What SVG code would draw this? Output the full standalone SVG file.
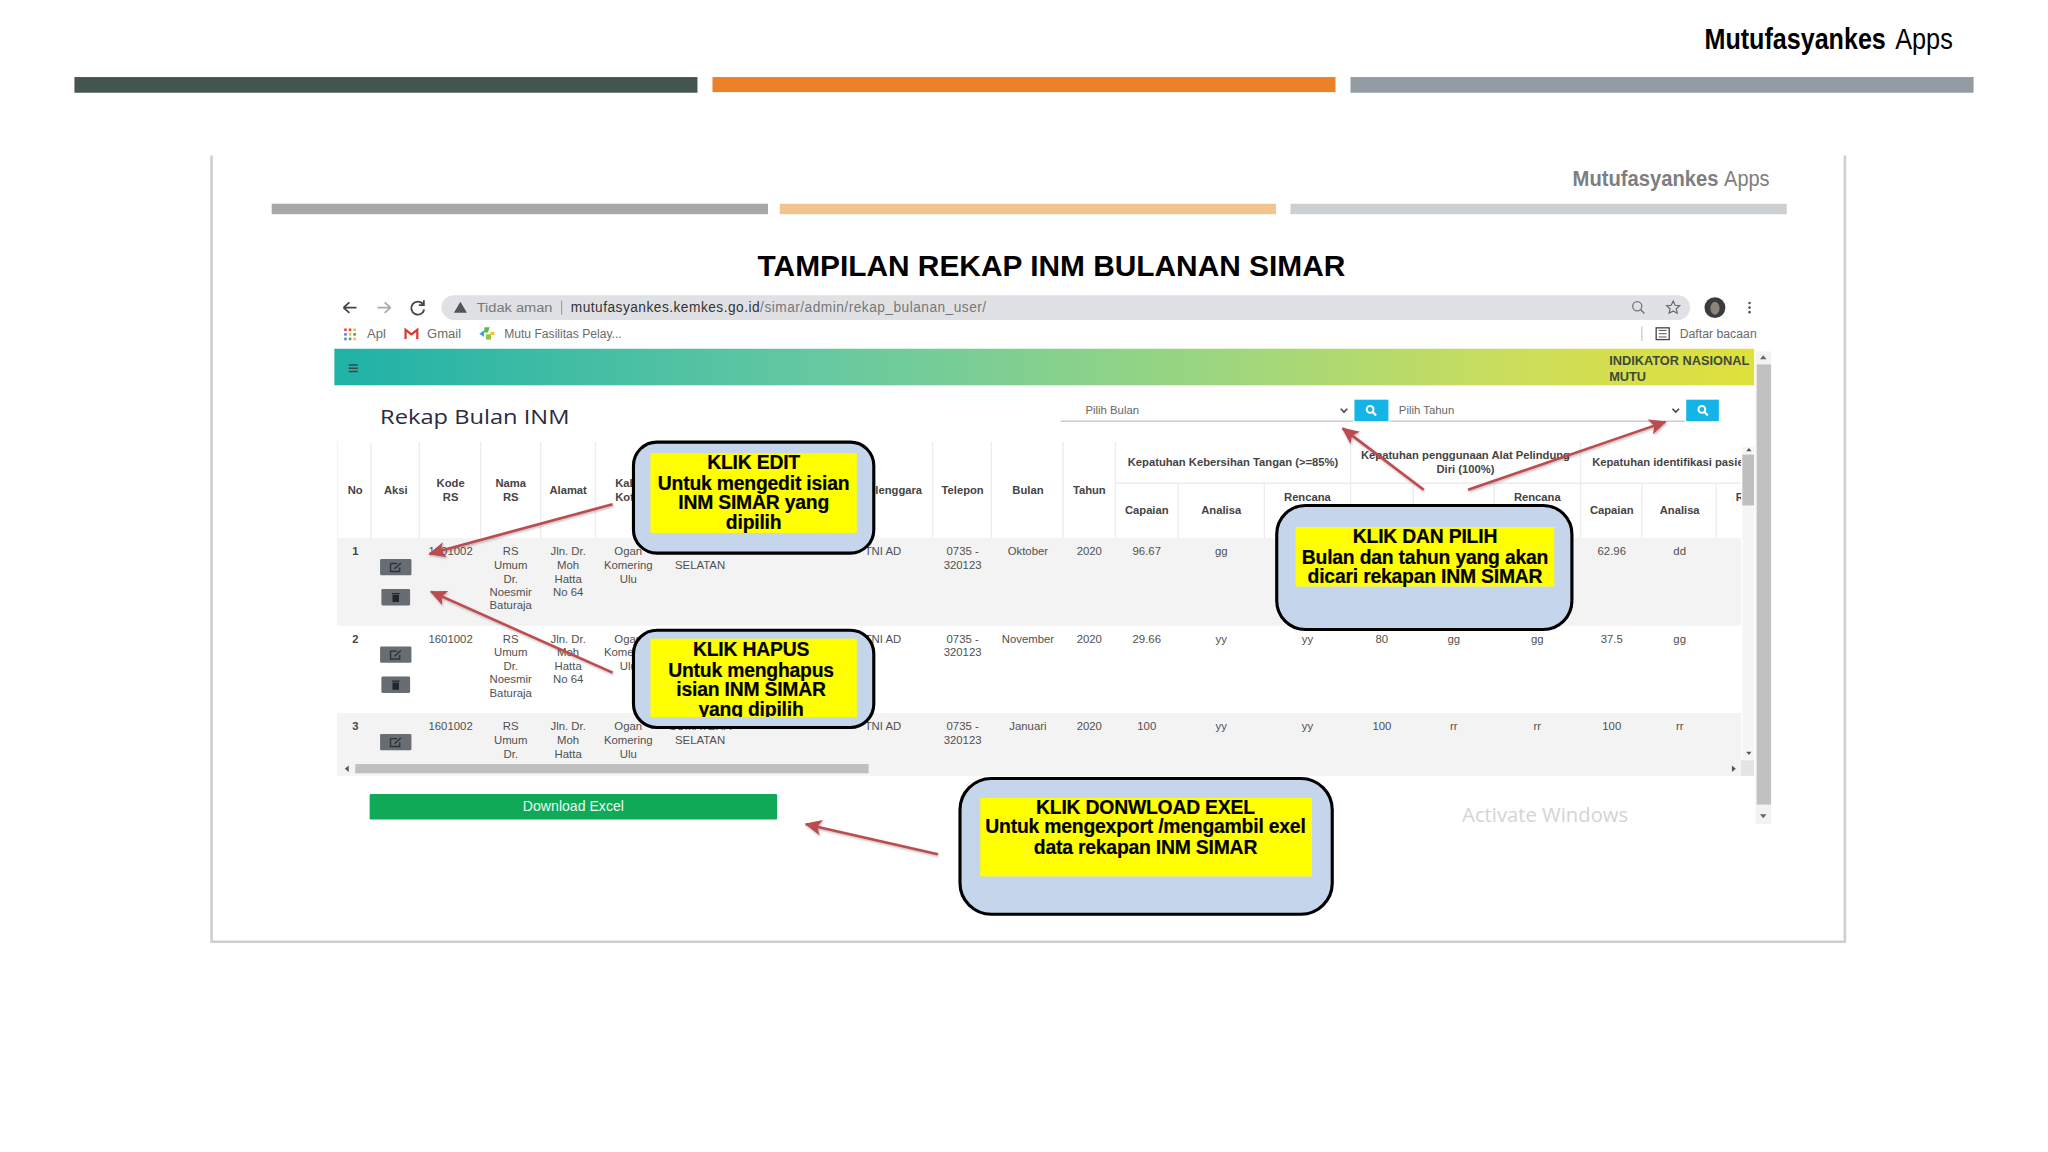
<svg xmlns="http://www.w3.org/2000/svg" width="2048" height="1152" viewBox="0 0 2048 1152">
<style>
text{font-family:"Liberation Sans",Arial,sans-serif}
.t{font-size:8.7px;fill:#505050;text-anchor:middle}
.h{font-size:8.6px;fill:#444;text-anchor:middle;font-weight:bold}
.b{font-size:10px;fill:#6b6b6b}
.sep{stroke:#ececec;stroke-width:1}
.call{fill:#c5d6ec;stroke:#000;stroke-width:2.4}
.yel{fill:#ffff00}
.ct{font-size:14.8px;font-weight:bold;fill:#000;text-anchor:middle;letter-spacing:-.15px;stroke:#000;stroke-width:.15}
.btn{fill:#676d73}
.arr{fill:none;stroke:#bb4b4f;stroke-width:2;marker-end:url(#ah);filter:url(#sh)}
</style>
<defs>
<linearGradient id="hd" x1="0" x2="1" y1="0" y2="0"><stop offset="0" stop-color="#1fb2a7"/><stop offset=".35" stop-color="#67c9a0"/><stop offset=".62" stop-color="#9cd67f"/><stop offset=".85" stop-color="#cfde58"/><stop offset="1" stop-color="#dfe03a"/></linearGradient>
<marker id="ah" markerUnits="userSpaceOnUse" markerWidth="14" markerHeight="12" refX="12" refY="6" orient="auto"><path d="M0 0L13 6L0 12L3 6Z" fill="#bb4b4f"/></marker>
<filter id="sh" x="-20%" y="-20%" width="140%" height="140%"><feDropShadow dx=".6" dy="1" stdDeviation=".8" flood-color="#000" flood-opacity=".3"/></filter>
<clipPath id="tbl"><rect x="258" y="338" width="1075" height="244"/></clipPath>
<clipPath id="hy"><rect x="498" y="489" width="158" height="60"/></clipPath>
<g id="ed"><rect class="btn" x="0" y="0" width="24" height="12.5" rx="1"/><path d="M8 3.5h5M8 3.5v6h7v-3M11 7.5l5-4.5" fill="none" stroke="#2f3338" stroke-width="1.1"/></g>
<g id="tr"><rect class="btn" x="0" y="0" width="22" height="12.5" rx="1"/><path d="M8 3h6v1h-6zM8.5 4.5h5v5.5h-5z" fill="#22262a"/></g>
<g id="se"><circle cx="-1" cy="-1" r="2.6" fill="none" stroke="#fff" stroke-width="1.5"/><path d="M1 1L3.6 3.6" stroke="#fff" stroke-width="1.6"/></g>
</defs>
<rect width="2048" height="1152" fill="#fff"/>
<g transform="scale(1.30612)">
<text transform="translate(1305 37.500) scale(.874 1)" font-size="22" font-weight="bold" fill="#000">Mutufasyankes</text>
<text transform="translate(1451 37.500) scale(.88 1)" font-size="22" fill="#000">Apps</text>
<rect x="57" y="59" width="477" height="12" fill="#44544f"/>
<rect x="545.500" y="59" width="477" height="11.500" fill="#ed8126"/>
<rect x="1034" y="59" width="477" height="12" fill="#939ba5"/>

<path d="M162 119V721H1412.500V119" fill="none" stroke="#cfcfcf" stroke-width="2"/>
<text transform="translate(1204 142.500) scale(.91 1)" font-size="17" font-weight="bold" fill="#7e7e80">Mutufasyankes</text>
<text transform="translate(1320 142.500) scale(.9 1)" font-size="17" fill="#7e7e80">Apps</text>
<rect x="208" y="156" width="380" height="8" fill="#a6a7a9"/>
<rect x="597" y="156" width="380" height="8" fill="#f1c490"/>
<rect x="988" y="156" width="380" height="8" fill="#ccd0d2"/>
<text x="805" y="211" text-anchor="middle" font-size="23" font-weight="bold" fill="#000" textLength="450" lengthAdjust="spacingAndGlyphs">TAMPILAN REKAP INM BULANAN SIMAR</text>

<g id="browser">
<path d="M263 235.500h10M263 235.500l4.500-4M263 235.500l4.500 4" fill="none" stroke="#444" stroke-width="1.400"/>
<path d="M299 235.500h-10M299 235.500l-4.500-4M299 235.500l-4.500 4" fill="none" stroke="#aaa" stroke-width="1.400"/>
<path d="M324 233a5 5 0 1 0 .8 4M324.500 229.800v3.800h-3.800" fill="none" stroke="#444" stroke-width="1.400"/>
<rect x="338" y="226" width="956" height="19" rx="9.500" fill="#e0e1e4"/>
<path d="M352.500 231l5 8.500h-10z" fill="#555"/>
<text x="365" y="239" font-size="10" fill="#777" textLength="58" lengthAdjust="spacingAndGlyphs">Tidak aman</text>
<path d="M430 230v11" stroke="#999" stroke-width=".8"/>
<text x="437" y="239" font-size="10.500" fill="#333" textLength="318" lengthAdjust="spacing">mutufasyankes.kemkes.go.id<tspan fill="#777">/simar/admin/rekap_bulanan_user/</tspan></text>
<circle cx="1253.500" cy="234.500" r="3.500" fill="none" stroke="#777" stroke-width="1"/><path d="M1256 237l3 3" stroke="#777" stroke-width="1.200"/>
<path d="M1281 230.500l1.500 3.200 3.500.4-2.600 2.300.7 3.400-3.100-1.700-3.100 1.700.7-3.400-2.600-2.300 3.500-.4z" fill="none" stroke="#666" stroke-width=".9"/>
<circle cx="1313" cy="235.500" r="8" fill="#3b3b3b"/><ellipse cx="1313" cy="236" rx="3.500" ry="5" fill="#8a8578"/>
<circle cx="1339.500" cy="232" r="1" fill="#555"/><circle cx="1339.500" cy="235.500" r="1" fill="#555"/><circle cx="1339.500" cy="239" r="1" fill="#555"/>
<g id="apps"><path d="M263.500 251.500h2v2h-2z" fill="#e44"/><path d="M267 251.500h2v2h-2z" fill="#e44"/><path d="M270.500 251.500h2v2h-2z" fill="#fb3"/><path d="M263.500 255h2v2h-2z" fill="#48e"/><path d="M267 255h2v2h-2z" fill="#fb3"/><path d="M270.500 255h2v2h-2z" fill="#4a5"/><path d="M263.500 258.500h2v2h-2z" fill="#48e"/><path d="M267 258.500h2v2h-2z" fill="#4a5"/><path d="M270.500 258.500h2v2h-2z" fill="#fb3"/></g>
<text x="281" y="259" class="b">Apl</text>
<path d="M310.500 259.500v-7l4.500 3.500 4.500-3.500v7" fill="none" stroke="#d93a2e" stroke-width="1.700"/>
<text x="327" y="259" class="b">Gmail</text>
<path d="M367 255.500l3.500-2.500v5z" fill="#2fa6d8"/><path d="M371 250.500h4l-1.500 4h-3z" fill="#5cb947"/><path d="M372 256h4v4h-4z" fill="#8dc63f"/><path d="M375.500 254h3v2.500h-3z" fill="#f3c322"/>
<text x="386" y="259" class="b" textLength="90" lengthAdjust="spacingAndGlyphs">Mutu Fasilitas Pelay...</text>
<path d="M1257 250v11" stroke="#ccc"/>
<rect x="1268" y="251" width="10" height="9" fill="#fff" stroke="#444" stroke-width="1"/><path d="M1270 253h6M1270 255.500h6M1270 258h6" stroke="#444" stroke-width=".7"/>
<text x="1286" y="259" class="b" textLength="59" lengthAdjust="spacingAndGlyphs">Daftar bacaan</text>
</g>

<g id="app">
<rect x="256" y="267" width="1087" height="28" fill="url(#hd)"/>
<path d="M267 279.500h7M267 282h7M267 284.500h7" stroke="#444" stroke-width="1.100"/>
<text x="1232" y="279.500" font-size="9.800" font-weight="bold" fill="#3e4a3a">INDIKATOR NASIONAL</text>
<text x="1232" y="292" font-size="9.800" font-weight="bold" fill="#3e4a3a">MUTU</text>
<rect x="1344" y="269" width="12" height="362" fill="#f3f3f3"/>
<rect x="1345" y="279" width="11" height="337" fill="#c1c1c1"/>
<path d="M1350 272l-2.500 3h5zM1350 626.500l-2.500-3h5z" fill="#666"/>
<text x="291" y="325" style="font-family:'Open Sans',sans-serif" font-size="15.500" fill="#2b2b3d" textLength="145" lengthAdjust="spacingAndGlyphs">Rekap Bulan INM</text>
<text x="831" y="317" font-size="8.700" fill="#666">Pilih Bulan</text>
<path d="M812 322.500H1036" stroke="#ccc" stroke-width="1"/>
<path d="M1026.500 313l2.500 2.500 2.500-2.500" fill="none" stroke="#444" stroke-width="1.200"/>
<rect x="1037" y="306" width="26" height="16.500" fill="#14b5e6"/><use href="#se" x="1050" y="314.500"/>
<text x="1071" y="317" font-size="8.700" fill="#666">Pilih Tahun</text>
<path d="M1064 322.500H1290" stroke="#ccc" stroke-width="1"/>
<path d="M1280.500 313l2.500 2.500 2.500-2.500" fill="none" stroke="#444" stroke-width="1.200"/>
<rect x="1291" y="306" width="25" height="16.500" fill="#14b5e6"/><use href="#se" x="1304" y="314.500"/>
<rect x="283" y="608" width="312" height="19.500" rx="1" fill="#0fa958"/>
<text x="439" y="621" font-size="10.800" fill="#e8fff0" text-anchor="middle">Download Excel</text>
<text x="1183" y="629.500" font-size="15.500" style="font-family:'Open Sans',sans-serif" fill="#d4d4d4" text-anchor="middle">Activate Windows</text>
</g>

<g id="table" clip-path="url(#tbl)">
<rect x="258" y="412" width="1075" height="67" fill="#f3f3f3"/>
<rect x="258" y="546" width="1075" height="50" fill="#f3f3f3"/>
<g class="sep">
<path d="M258 338V412M284 338V412M321 338V412M368 338V412M414 338V412M456 338V412M714 338V412M759 338V412M814 338V412M854 338V412M902 370V412M968 370V412M1034 338V412M1082 370V412M1144 370V412M1210 338V412M1257 370V412M1314 370V412"/>
<path d="M854 370H1333"/>
</g>
<text x="272" y="378" class="h">No</text><text x="303" y="378" class="h">Aksi</text>
<text x="345" y="372.500" class="h">Kode</text><text x="345" y="383.500" class="h">RS</text>
<text x="391" y="372.500" class="h">Nama</text><text x="391" y="383.500" class="h">RS</text>
<text x="435" y="378" class="h">Alamat</text>
<text x="471" y="372.500" class="h" style="text-anchor:start">Kab/</text><text x="471" y="383.500" class="h" style="text-anchor:start">Kota</text>
<text x="706" y="378" class="h" style="text-anchor:end">Penyelenggara</text>
<text x="737" y="378" class="h">Telepon</text><text x="787" y="378" class="h">Bulan</text><text x="834" y="378" class="h">Tahun</text>
<text x="944" y="356.500" class="h">Kepatuhan Kebersihan Tangan (&gt;=85%)</text>
<text x="1122" y="351.500" class="h">Kepatuhan penggunaan Alat Pelindung</text><text x="1122" y="362" class="h">Diri (100%)</text>
<text x="1219" y="356.500" class="h" style="text-anchor:start">Kepatuhan identifikasi pasien</text>
<text x="878" y="393.500" class="h">Capaian</text><text x="935" y="393.500" class="h">Analisa</text><text x="1001" y="383.500" class="h">Rencana</text>
<text x="1177" y="383.500" class="h">Rencana</text>
<text x="1234" y="393.500" class="h">Capaian</text><text x="1286" y="393.500" class="h">Analisa</text><text x="1329" y="383.500" class="h" style="text-anchor:start">Rencana</text>

<text x="272" y="425" class="h">1</text>
<text x="345" y="425" class="t">1601002</text>
<text x="391" y="425" class="t">RS</text><text x="391" y="435.500" class="t">Umum</text><text x="391" y="446" class="t">Dr.</text><text x="391" y="456" class="t">Noesmir</text><text x="391" y="466.500" class="t">Baturaja</text>
<text x="435" y="425" class="t">Jln. Dr.</text><text x="435" y="435.500" class="t">Moh</text><text x="435" y="446" class="t">Hatta</text><text x="435" y="456" class="t">No 64</text>
<text x="481" y="425" class="t">Ogan</text><text x="481" y="435.500" class="t">Komering</text><text x="481" y="446" class="t">Ulu</text>
<text x="536" y="435.500" class="t">SELATAN</text>
<text x="676" y="425" class="t">TNI AD</text>
<text x="737" y="425" class="t">0735 -</text><text x="737" y="435.500" class="t">320123</text>
<text x="787" y="425" class="t">Oktober</text><text x="834" y="425" class="t">2020</text>
<text x="878" y="425" class="t">96.67</text><text x="935" y="425" class="t">gg</text><text x="1234" y="425" class="t">62.96</text><text x="1286" y="425" class="t">dd</text>

<text x="272" y="492" class="h">2</text>
<text x="345" y="492" class="t">1601002</text>
<text x="391" y="492" class="t">RS</text><text x="391" y="502.500" class="t">Umum</text><text x="391" y="513" class="t">Dr.</text><text x="391" y="523" class="t">Noesmir</text><text x="391" y="533.500" class="t">Baturaja</text>
<text x="435" y="492" class="t">Jln. Dr.</text><text x="435" y="502.500" class="t">Moh</text><text x="435" y="513" class="t">Hatta</text><text x="435" y="523" class="t">No 64</text>
<text x="481" y="492" class="t">Ogan</text><text x="481" y="502.500" class="t">Komering</text><text x="481" y="513" class="t">Ulu</text>
<text x="676" y="492" class="t">TNI AD</text>
<text x="737" y="492" class="t">0735 -</text><text x="737" y="502.500" class="t">320123</text>
<text x="787" y="492" class="t">November</text><text x="834" y="492" class="t">2020</text>
<text x="878" y="492" class="t">29.66</text><text x="935" y="492" class="t">yy</text><text x="1001" y="492" class="t">yy</text><text x="1058" y="492" class="t">80</text><text x="1113" y="492" class="t">gg</text><text x="1177" y="492" class="t">gg</text><text x="1234" y="492" class="t">37.5</text><text x="1286" y="492" class="t">gg</text>

<text x="272" y="559" class="h">3</text>
<text x="345" y="559" class="t">1601002</text>
<text x="391" y="559" class="t">RS</text><text x="391" y="569.500" class="t">Umum</text><text x="391" y="580" class="t">Dr.</text>
<text x="435" y="559" class="t">Jln. Dr.</text><text x="435" y="569.500" class="t">Moh</text><text x="435" y="580" class="t">Hatta</text>
<text x="481" y="559" class="t">Ogan</text><text x="481" y="569.500" class="t">Komering</text><text x="481" y="580" class="t">Ulu</text>
<text x="536" y="559" class="t">SUMATERA</text><text x="536" y="569.500" class="t">SELATAN</text>
<text x="676" y="559" class="t">TNI AD</text>
<text x="737" y="559" class="t">0735 -</text><text x="737" y="569.500" class="t">320123</text>
<text x="787" y="559" class="t">Januari</text><text x="834" y="559" class="t">2020</text>
<text x="878" y="559" class="t">100</text><text x="935" y="559" class="t">yy</text><text x="1001" y="559" class="t">yy</text><text x="1058" y="559" class="t">100</text><text x="1113" y="559" class="t">rr</text><text x="1177" y="559" class="t">rr</text><text x="1234" y="559" class="t">100</text><text x="1286" y="559" class="t">rr</text>

<use href="#ed" x="291" y="428"/><use href="#tr" x="292" y="451"/>
<use href="#ed" x="291" y="495"/><use href="#tr" x="292" y="518"/>
<use href="#ed" x="291" y="562"/>
</g>
<g id="scrollbars">
<rect x="258" y="582" width="1085" height="12" fill="#f3f3f3"/>
<rect x="272" y="585" width="393" height="7" fill="#bfbfbf"/>
<path d="M264 588.500l3-2.500v5zM1329 588.500l-3-2.500v5z" fill="#555"/>
<rect x="1333" y="582" width="10" height="12" fill="#e4e4e4"/>
<rect x="1334" y="342" width="9" height="240" fill="#f5f5f5"/>
<rect x="1334" y="348" width="9" height="39" fill="#bfbfbf"/>
<path d="M1339 343l-2 2.500h4zM1339 578l-2-2.500h4z" fill="#555"/>
</g>

<g id="connectors">
<path class="arr" d="M469 386L329 424"/>
<path class="arr" d="M469 515L330 453"/>
<path class="arr" d="M1090 375L1028 328"/>
<path class="arr" d="M1124 375L1275 323"/>
<path class="arr" d="M718 654L617 631"/>
</g>

<g id="callout-edit">
<rect class="call" x="485" y="338.500" width="184" height="85" rx="18"/>
<rect class="yel" x="498" y="347" width="158" height="61"/>
<text class="ct" x="577" y="359">KLIK EDIT</text><text class="ct" x="577" y="375">Untuk mengedit isian</text><text class="ct" x="577" y="390">INM SIMAR yang</text><text class="ct" x="577" y="405">dipilih</text>
</g>
<g id="callout-hapus">
<rect class="call" x="485" y="482.500" width="184" height="74.500" rx="18"/>
<rect class="yel" x="498" y="489" width="158" height="60"/>
<g clip-path="url(#hy)"><text class="ct" x="575" y="502">KLIK HAPUS</text><text class="ct" x="575" y="518">Untuk menghapus</text><text class="ct" x="575" y="533">isian INM SIMAR</text><text class="ct" x="575" y="548">yang dipilih</text></g>
</g>
<g id="callout-pilih">
<rect class="call" x="977.500" y="387" width="226" height="95" rx="22"/>
<rect class="yel" x="992" y="403.500" width="198" height="45.500"/>
<text class="ct" x="1091" y="415.500">KLIK DAN PILIH</text><text class="ct" x="1091" y="432">Bulan dan tahun yang akan</text><text class="ct" x="1091" y="446">dicari rekapan INM SIMAR</text>
</g>
<g id="callout-download">
<rect class="call" x="735" y="596" width="285" height="104" rx="24"/>
<rect class="yel" x="750.500" y="611" width="254" height="60"/>
<text class="ct" x="877" y="623">KLIK DONWLOAD EXEL</text><text class="ct" x="877" y="638">Untuk mengexport /mengambil exel</text><text class="ct" x="877" y="654">data rekapan INM SIMAR</text>
</g>
</g>
</svg>
